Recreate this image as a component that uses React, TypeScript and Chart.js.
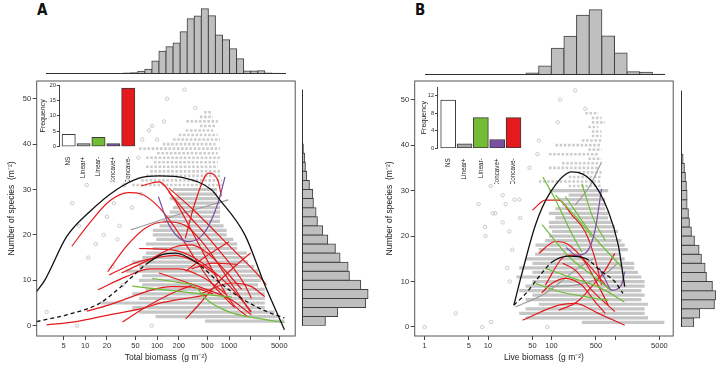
import React, { useEffect, useRef } from "react";
import { Chart, registerables } from "chart.js";
Chart.register(...registerables);

const FONT = "'Liberation Sans', Arial, Helvetica, sans-serif";
Chart.defaults.font.family = FONT;
Chart.defaults.color = "#333";

// ---------- axis ticks ----------
const A_X_TICKS = [5, 10, 20, 50, 100, 200, 500, 1000, 2000, 5000];
const A_X_LABELS = ["5", "10", "20", "50", "100", "200", "500", "1000", "", "5000"];
const B_X_TICKS = [1, 5, 10, 50, 100, 500, 1000, 5000];
const B_X_LABELS = ["1", "5", "10", "50", "100", "500", "", "5000"];
const Y_TICKS = [0, 10, 20, 30, 40, 50];

// ---------- inset bar charts ----------
const INSET_CATS = ["NS", "Linear+", "Linear-", "Concave+", "Concave-"];
const INSET_COLORS = ["#ffffff", "#a8a8a8", "#74bb36", "#7a4ea3", "#e41a1c"];
const A_FREQ = [4, 1, 3, 1, 19];
const B_FREQ = [11, 1, 7, 2, 7];

// ---------- marginal histograms ----------
const A_TOP_HIST = [0, 0, 0, 0, 0, 0, 0, 0, 0, 0, 0, 3, 4, 8, 14, 39, 68, 82, 93, 127, 166, 174, 196, 175, 117, 103, 76, 46, 9, 9, 10, 3, 2, 0];
const B_TOP_HIST = [0, 0, 0, 0, 0, 0, 0.5, 0.5, 6, 27, 80, 116, 179, 196, 117, 66, 10, 8, 2];
// species bins 0-2, 2-4, ... 50-52 (bottom to top)
const A_RIGHT_HIST = [70, 107, 191, 198, 176, 142, 138, 114, 100, 77, 62, 46, 42, 34, 32, 22, 14, 10, 8, 4, 1, 1, 1, 0, 0, 0];
const B_RIGHT_HIST = [38, 56, 100, 104, 94, 76, 72, 61, 54, 40, 31, 25, 22, 18, 18, 16, 13, 10, 6, 2, 1, 1, 1, 0, 0, 0];

// ---------- scatter clouds: [species, minBiomass, maxBiomass] ----------
const A_ROWS = [
  [1, 465, 5900], [2, 95, 4780], [3, 56, 4300], [4, 45, 3140], [5, 16, 3140], [6, 56, 3140],
  [7, 45, 3140], [8, 69, 3140], [9, 62, 2535], [10, 56, 2800], [11, 62, 2800], [12, 37, 2535],
  [13, 56, 2250], [14, 45, 1845], [15, 62, 1660], [16, 70, 1770], [17, 87, 1300], [18, 70, 1300],
  [19, 97, 1150], [20, 87, 930], [21, 87, 930], [22, 108, 840], [23, 120, 750], [24, 134, 750],
  [25, 150, 750], [26, 166, 750], [27, 185, 750], [28, 150, 750], [29, 185, 680], [30, 166, 680],
];
const A_SPARSE_ROWS = [
  [31, 45, 800], [32, 60, 800], [33, 70, 750], [34, 80, 750], [35, 70, 700], [36, 90, 700],
  [37, 70, 750], [38, 100, 700], [39, 56, 750], [40, 120, 650], [41, 166, 750], [42, 200, 700],
  [43, 250, 600], [44, 393, 650], [45, 255, 700], [46, 393, 600], [47, 450, 560],
];
const A_POINTS = [
  [240, 52], [138, 50], [340, 48], [125, 45], [85, 44], [77, 43], [62, 41], [35, 31], [10.5, 31],
  [6.6, 27], [8.2, 22], [2.9, 3], [7.7, 0], [84, 0], [20, 24], [25, 27], [30, 22], [45, 26],
  [18, 20], [40, 33], [55, 37], [100, 41], [60, 29], [14, 18], [28, 19], [11, 15], [24, 13], [33, 9],
];
const B_ROWS = [
  [1, 300, 5980], [2, 39, 3300], [3, 31, 2920], [4, 39, 2920], [5, 63, 3300], [6, 39, 2600],
  [7, 50, 2920], [8, 31, 2600], [9, 39, 2920], [10, 50, 2920], [11, 28, 2600], [12, 50, 2300],
  [13, 31, 2000], [14, 50, 2000], [15, 39, 1420], [16, 55, 1250], [17, 63, 1590], [18, 56, 1420],
  [19, 80, 1258], [20, 91, 990], [21, 102, 1120], [22, 91, 990], [23, 91, 880], [24, 115, 780],
  [25, 91, 780], [26, 115, 700], [27, 146, 700], [28, 130, 700], [29, 186, 613], [30, 91, 780],
];
const B_SPARSE_ROWS = [
  [31, 186, 613], [32, 63, 613], [33, 186, 613], [34, 265, 613], [35, 91, 545], [36, 146, 545],
  [37, 380, 613], [38, 91, 545], [39, 380, 613], [40, 115, 613], [41, 300, 613], [42, 430, 613],
  [43, 430, 613], [44, 380, 545], [45, 430, 700], [46, 430, 613], [47, 340, 545],
];
const B_POINTS = [
  [1, 0], [3.1, 3], [8.1, 0], [11.2, 1.1], [86, 0], [9.1, 20], [9, 22], [7.1, 27], [11.9, 25],
  [11, 31], [17, 23], [17, 29], [26, 28], [31, 28], [63, 41], [125, 45], [137, 50], [236, 52],
  [340, 48], [21.6, 21], [32, 24], [19, 27], [13, 25], [24, 17], [20, 13], [45, 35], [60, 38], [22, 10],
];

// ---------- fitted curves: [biomass, species] ----------
const A_BLACK = [[2.1, 7.5], [2.75, 10.1], [5.5, 19.6], [11.5, 25.1], [26.8, 29.9], [56, 32.5], [106, 33], [247, 32.5], [575, 29.9], [712, 28.1], [1663, 20], [3140, 9], [5910, -0.9]];
const A_DASH = [[2.1, 0.9], [5.5, 2.4], [15.7, 4.9], [30, 8.3], [45, 10.8], [70, 13.5], [110, 15.5], [180, 16], [340, 14.1], [712, 9.7], [1500, 6], [3140, 3.3], [5900, 1.7]];
const A_DASH_SOLID = [70, 340];
const A_GRAY = [[[43, 21.1], [100, 23], [250, 25], [977, 27.7]]];
const A_PURPLE = [[[104, 28.4], [146, 22.2], [275, 18.5], [465, 20.7], [712, 27.3], [880, 32.8]]];
const A_GREEN = [
  [[45, 8.7], [150, 7.8], [400, 7], [1100, 6.3]],
  [[85, 10.4], [200, 9.5], [340, 8.6], [470, 6], [977, 3.1], [2535, 1.6], [5900, 0.7]],
];
const A_RED = [
  [[6.5, 17.5], [12, 23], [22, 27.5], [40, 29.3], [60, 29], [100, 26.5], [170, 22], [300, 16], [600, 9], [1200, 4]],
  [[60, 30.8], [106, 31.7], [170, 28], [300, 21], [600, 12], [1100, 5], [1800, 2]],
  [[247, 19.3], [340, 27.3], [520, 33.6], [712, 31.7], [780, 28.5]],
  [[20.5, 11.9], [37, 17.4], [69, 21.5], [130, 22.9], [250, 22], [500, 17], [1000, 10], [2000, 3]],
  [[146, 30.3], [340, 25.1], [977, 17.8], [2535, 11.2], [3300, 9]],
  [[32, 11.6], [77, 14.5], [180, 17.4], [300, 17.8], [500, 16], [900, 12], [1500, 8]],
  [[2.9, 0.2], [7.5, 0.9], [21.6, 2.4], [62, 3.8], [106, 4.9], [275, 6.1], [500, 6.8]],
  [[10.5, 3.2], [21.6, 4.6], [45, 6.4], [85, 7.9], [160, 8.6], [300, 8.5], [600, 7]],
  [[33, 0.8], [62, 3.6], [100, 5.5], [200, 7.8], [320, 9]],
  [[21.6, 11.2], [37, 13], [56, 14.1], [100, 15], [180, 15.5], [350, 14], [700, 11]],
  [[250, 1.5], [400, 5], [700, 9.5], [1300, 13.5], [2000, 16]],
  [[250, 12], [500, 15.5], [1000, 18.5]],
  [[300, 12.5], [600, 13.8], [1300, 13.5]],
  [[400, 7], [1070, 9.4], [2050, 8.6], [3140, 6.4]],
  [[106, 11.6], [378, 8.6], [1070, 5.7], [2050, 2.4]],
  [[146, 29.5], [247, 25.1], [575, 18.5], [1660, 9], [2050, 6]],
  [[56, 17], [160, 16.7], [340, 14.8], [977, 9], [2050, 3.1]],
  [[15, 7.9], [37, 10.8], [80, 12.5], [200, 12.5], [450, 10.5], [900, 7]],
];

const B_BLACK = [[25.5, 4.8], [34.8, 12.2], [56, 22.5], [91, 29.1], [210, 34.1], [430, 32.1], [780, 25.5], [1120, 18.1], [1420, 8.9]];
const B_DASH = [[25.5, 4.8], [39.5, 7.4], [63, 11], [102, 14.3], [186, 15.6], [340, 15.1], [613, 12.2], [990, 10], [1330, 7.4]];
const B_DASH_SOLID = [100, 340];
const B_GRAY = [
  [[27, 4.4], [80, 7.4], [236, 12.5], [450, 15]],
  [[80, 8.9], [236, 9.2], [600, 11], [1100, 14]],
  [[236, 26.8], [400, 31], [613, 36.3]],
];
const B_PURPLE = [
  [[170, 17.5], [250, 15.8], [340, 16.2], [480, 21], [613, 30.4]],
  [[560, 13], [700, 10.5], [880, 8.1], [1258, 9.2], [1420, 12.2]],
];
const B_GREEN = [
  [[73, 33], [120, 27.5], [200, 21], [300, 16.5]],
  [[115, 29], [250, 24], [430, 19.9]],
  [[165, 28.7], [400, 21], [1250, 13.3]],
  [[300, 31.5], [450, 24], [700, 19]],
  [[71, 22.5], [186, 15.5], [483, 10.9], [880, 8]],
  [[56, 9.6], [130, 7.8], [300, 6.8], [780, 5.9]],
  [[80, 12.9], [210, 10.8], [613, 8.5], [1400, 5.5]],
];
const B_RED = [
  [[50, 25.7], [80, 27.9], [130, 27.9], [210, 24.6], [340, 20.9], [483, 15.1], [613, 9.2]],
  [[63, 16.2], [115, 18.8], [186, 18.1], [380, 13.7], [780, 8.5]],
  [[80, 9.2], [146, 15.1], [210, 15.8], [300, 15.1], [540, 9.2], [780, 4.8]],
  [[130, 3.7], [250, 5.5], [430, 8.9], [700, 12.5], [990, 16.2]],
  [[35, 1.5], [130, 4.8], [236, 5.2], [545, 3], [1420, 0.4]],
  [[150, 14], [236, 12.5], [430, 8.1], [990, 3.4]],
  [[70, 7.5], [102, 9.6], [165, 10.7], [300, 9.2], [483, 5.6], [700, 3]],
];

// ---------- styles ----------
const RED = "#e41a1c";
const GREEN = "#6fbd38";
const PURPLE = "#7a4ea3";
const GRAY = "#9c9c9c";
const BLACK = "#111111";
const BAND = "#c6c6c6";

const pts = (arr: number[][]) => arr.map(([x, y]) => ({ x, y }));

function curve(data: number[][], color: string, extra: any = {}) {
  return {
    data: pts(data),
    showLine: true,
    borderColor: color,
    backgroundColor: color,
    borderWidth: 1.2,
    pointRadius: 0,
    cubicInterpolationMode: "monotone",
    ...extra,
  };
}

const boxPlugin = {
  id: "box",
  afterDraw(chart: any) {
    const { ctx, chartArea: a } = chart;
    ctx.save();
    ctx.strokeStyle = "#555";
    ctx.lineWidth = 1;
    ctx.strokeRect(a.left, a.top, a.right - a.left, a.bottom - a.top);
    ctx.restore();
  },
};

const baselinePlugin = {
  id: "baseline",
  afterDatasetsDraw(chart: any, _args: any, opts: any) {
    const { ctx, chartArea: a } = chart;
    ctx.save();
    ctx.strokeStyle = "#333";
    ctx.lineWidth = 1;
    ctx.beginPath();
    if (opts.side === "left") {
      ctx.moveTo(a.left + 0.5, a.top);
      ctx.lineTo(a.left + 0.5, a.bottom);
    } else {
      ctx.moveTo(a.left, a.bottom - 0.5);
      ctx.lineTo(a.right, a.bottom - 0.5);
    }
    ctx.stroke();
    ctx.restore();
  },
};

interface Panel {
  xMin: number; xMax: number; yMin: number; yMax: number;
  xTicks: number[]; xLabels: string[]; xTitle: string;
  rows: number[][]; sparseRows: number[][]; points: number[][];
  black: number[][]; dash: number[][]; dashSolid: number[];
  gray: number[][][]; purple: number[][][]; green: number[][][]; red: number[][][];
}

function mainConfig(p: Panel): any {
  const datasets: any[] = [
    curve(p.black, BLACK, { borderWidth: 1.3 }),
    curve(p.dash, BLACK, {
      borderWidth: 1.3,
      segment: {
        borderDash: (c: any) =>
          c.p0.parsed.x >= p.dashSolid[0] - 1 && c.p1.parsed.x <= p.dashSolid[1] + 1 ? [] : [4, 3],
      },
    }),
    ...p.purple.map((c) => curve(c, PURPLE)),
    ...p.green.map((c) => curve(c, GREEN)),
    ...p.red.map((c) => curve(c, RED)),
    ...p.gray.map((c) => curve(c, GRAY)),
    {
      data: pts(p.points),
      showLine: false,
      pointRadius: 1.7,
      pointBorderWidth: 0.8,
      pointBorderColor: "#bdbdbd",
      pointBackgroundColor: "rgba(255,255,255,0)",
    },
    ...p.sparseRows.map(([s, lo, hi]) => ({
      data: [{ x: lo, y: s }, { x: hi, y: s }],
      showLine: true,
      borderColor: "#cdcdcd",
      borderWidth: 2.6,
      borderDash: [2.6, 1.6],
      pointRadius: 0,
    })),
    ...p.rows.map(([s, lo, hi]) => ({
      data: [{ x: lo, y: s }, { x: hi, y: s }],
      showLine: true,
      borderColor: BAND,
      borderWidth: 3.2,
      pointRadius: 0,
    })),
  ];
  return {
    type: "scatter",
    data: { datasets },
    options: {
      responsive: false,
      animation: false,
      events: [],
      layout: { padding: { top: 6, right: 2.4, left: 0, bottom: 0 } },
      plugins: { legend: { display: false }, tooltip: { enabled: false } },
      scales: {
        x: {
          type: "logarithmic",
          min: p.xMin,
          max: p.xMax,
          afterBuildTicks: (s: any) => {
            s.ticks = p.xTicks.map((v) => ({ value: v }));
          },
          afterFit: (s: any) => {
            s.height = 31;
          },
          ticks: {
            autoSkip: false,
            maxRotation: 0,
            minRotation: 0,
            padding: 1,
            color: "#333",
            font: { size: 7.5 },
            callback: (_v: any, i: number) => p.xLabels[i],
          },
          grid: { display: true, drawOnChartArea: false, drawTicks: true, tickLength: 4, color: "#444" },
          border: { display: false },
          title: {
            display: true,
            text: p.xTitle,
            color: "#222",
            font: { size: 8.5 },
            padding: { top: 0, bottom: 4.5 },
          },
        },
        y: {
          type: "linear",
          min: p.yMin,
          max: p.yMax,
          afterBuildTicks: (s: any) => {
            s.ticks = Y_TICKS.map((v) => ({ value: v }));
          },
          afterFit: (s: any) => {
            s.width = 36.7;
          },
          ticks: { padding: 1.5, color: "#333", font: { size: 7.5 } },
          grid: { display: true, drawOnChartArea: false, drawTicks: true, tickLength: 4, color: "#444" },
          border: { display: false },
          title: {
            display: true,
            text: "Number of species  (m\u207B\u00B2)",
            color: "#222",
            font: { size: 8.5 },
            padding: { top: 7, bottom: 0 },
          },
        },
      },
    },
    plugins: [boxPlugin],
  };
}

function topHistConfig(values: number[], maxV: number): any {
  return {
    type: "bar",
    data: {
      labels: values.map((_, i) => String(i)),
      datasets: [
        {
          data: values,
          backgroundColor: "#bfbfbf",
          borderColor: "#404040",
          borderWidth: 1,
          barPercentage: 1,
          categoryPercentage: 1,
          inflateAmount: 0.5,
        },
      ],
    },
    options: {
      responsive: false,
      animation: false,
      events: [],
      layout: { padding: 0 },
      plugins: { legend: { display: false }, tooltip: { enabled: false }, baseline: { side: "bottom" } },
      scales: {
        x: { display: false },
        y: { display: false, min: 0, max: maxV },
      },
    },
    plugins: [baselinePlugin],
  };
}

function rightHistConfig(values: number[], maxV: number, padTop: number, padBottom: number): any {
  return {
    type: "bar",
    data: {
      labels: values.map((_, i) => String(i * 2)),
      datasets: [
        {
          data: values,
          backgroundColor: "#bfbfbf",
          borderColor: "#404040",
          borderWidth: 1,
          barPercentage: 1,
          categoryPercentage: 1,
          inflateAmount: 0.5,
        },
      ],
    },
    options: {
      indexAxis: "y",
      responsive: false,
      animation: false,
      events: [],
      layout: { padding: { top: padTop, bottom: padBottom, left: 0, right: 0 } },
      plugins: { legend: { display: false }, tooltip: { enabled: false }, baseline: { side: "left" } },
      scales: {
        y: { display: false, reverse: true },
        x: { display: false, min: 0, max: maxV },
      },
    },
    plugins: [baselinePlugin],
  };
}

function insetConfig(freq: number[], yMax: number, step: number, xMin: number, axisW: number, xH: number, padRight: number, barW: number, titlePad: number): any {
  return {
    type: "bar",
    data: {
      datasets: [
        {
          data: freq.map((f, i) => ({ x: i, y: f })),
          backgroundColor: INSET_COLORS,
          borderColor: "#3a3a3a",
          borderWidth: 1,
          borderSkipped: false,
          barThickness: barW,
        },
      ],
    },
    options: {
      responsive: false,
      animation: false,
      events: [],
      layout: { padding: { top: 5, right: padRight, left: 0, bottom: 0 } },
      plugins: { legend: { display: false }, tooltip: { enabled: false } },
      scales: {
        x: {
          type: "linear",
          min: xMin,
          max: 4.5,
          offset: false,
          afterBuildTicks: (s: any) => {
            s.ticks = [0, 1, 2, 3, 4].map((v) => ({ value: v }));
          },
          afterFit: (s: any) => {
            s.height = xH;
          },
          ticks: {
            autoSkip: false,
            minRotation: 90,
            maxRotation: 90,
            padding: 2,
            color: "#222",
            font: { size: 6.3 },
            callback: (v: any) => INSET_CATS[Math.round(v)],
          },
          grid: { display: false, offset: false },
          border: { display: false },
        },
        y: {
          min: 0,
          max: yMax,
          afterBuildTicks: (s: any) => {
            const t = [];
            for (let v = 0; v <= yMax; v += step) t.push({ value: v });
            s.ticks = t;
          },
          afterFit: (s: any) => {
            s.width = axisW;
          },
          ticks: { padding: 0.8, color: "#333", font: { size: 5.8 } },
          grid: { display: true, drawOnChartArea: false, drawTicks: true, tickLength: 2.5, color: "#444" },
          border: { display: true, color: "#444" },
          title: {
            display: true,
            text: "Frequency",
            color: "#222",
            font: { size: 7 },
            padding: { top: titlePad, bottom: 0 },
          },
        },
      },
    },
  };
}

const PANEL_A: Panel = {
  xMin: 2.11, xMax: 8337, yMin: -2.27, yMax: 53.9,
  xTicks: A_X_TICKS, xLabels: A_X_LABELS, xTitle: "Total biomass  (g m\u207B\u00B2)",
  rows: A_ROWS, sparseRows: A_SPARSE_ROWS, points: A_POINTS,
  black: A_BLACK, dash: A_DASH, dashSolid: A_DASH_SOLID,
  gray: A_GRAY, purple: A_PURPLE, green: A_GREEN, red: A_RED,
};
const PANEL_B: Panel = {
  xMin: 0.716, xMax: 8241, yMin: -1.98, yMax: 54.1,
  xTicks: B_X_TICKS, xLabels: B_X_LABELS, xTitle: "Live biomass  (g m\u207B\u00B2)",
  rows: B_ROWS, sparseRows: B_SPARSE_ROWS, points: B_POINTS,
  black: B_BLACK, dash: B_DASH, dashSolid: B_DASH_SOLID,
  gray: B_GRAY, purple: B_PURPLE, green: B_GREEN, red: B_RED,
};

function ChartBox({ make, left, top, width, height }: { make: () => any; left: number; top: number; width: number; height: number }) {
  const ref = useRef<HTMLCanvasElement>(null);
  useEffect(() => {
    const chart = new Chart(ref.current as HTMLCanvasElement, make());
    return () => chart.destroy();
  }, []);
  return (
    <canvas
      ref={ref}
      width={width}
      height={height}
      style={{ position: "absolute", left, top, width, height }}
    />
  );
}

const letterStyle: any = {
  position: "absolute",
  top: 2,
  fontFamily: "'Liberation Sans Narrow', 'DejaVu Sans Condensed', Arial, sans-serif",
  fontWeight: 700,
  fontSize: 15,
  color: "#111",
  lineHeight: "16px",
};

export default function App() {
  return (
    <div style={{ position: "absolute", left: 0, top: 0, width: 720, height: 367, background: "#fff", overflow: "hidden" }}>
      <div style={{ ...letterStyle, left: 37 }}>A</div>
      <div style={{ ...letterStyle, left: 415 }}>B</div>

      <ChartBox make={() => topHistConfig(A_TOP_HIST, 219)} left={46} top={1} width={240} height={73} />
      <ChartBox make={() => topHistConfig(B_TOP_HIST, 219)} left={425} top={2} width={240} height={73} />

      <ChartBox make={() => mainConfig(PANEL_A)} left={0} top={75} width={300} height={292} />
      <ChartBox make={() => mainConfig(PANEL_B)} left={378} top={75} width={300} height={292} />

      <ChartBox make={() => rightHistConfig(A_RIGHT_HIST, 216, 0.6, 0.3)} left={302} top={89} width={72} height={237} />
      <ChartBox make={() => rightHistConfig(B_RIGHT_HIST, 111, 0.6, 0)} left={681} top={90} width={37} height={237} />

      <ChartBox make={() => insetConfig(A_FREQ, 20, 5, -0.631, 29.3, 35.3, 4.3, 13.3, 9)} left={30} top={80} width={110} height={102} />
      <ChartBox make={() => insetConfig(B_FREQ, 14, 2, -0.655, 32.5, 35.7, 3.3, 15, 15)} left={405} top={82} width={120} height={102} />
    </div>
  );
}
